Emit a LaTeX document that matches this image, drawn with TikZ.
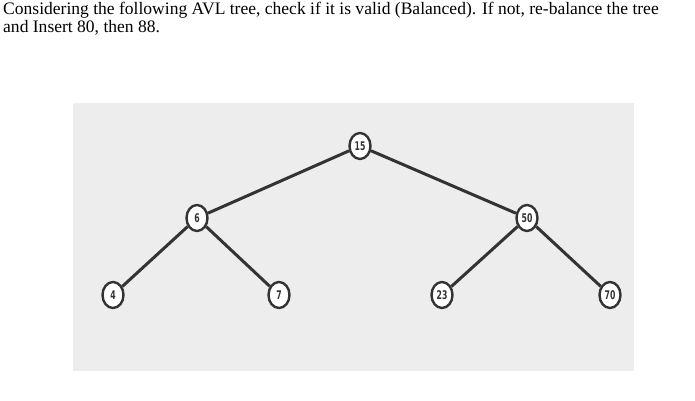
\documentclass[tikz,border=0pt]{standalone}
\usepackage{fontspec}
\setmainfont{Liberation Serif}
\newfontfamily\nodefont{DejaVu Sans Condensed}
\usetikzlibrary{shapes.geometric}
\newcommand{\nlab}[1]{\scalebox{0.72}[1]{#1}}
\begin{document}
\begin{tikzpicture}[x=1bp,y=1bp,
  nd/.style={ellipse,draw=black!80,line width=2.4bp,fill=white,minimum width=21bp,minimum height=26bp,inner sep=0pt,font=\nodefont\bfseries\fontsize{12}{12}\selectfont,text=black!80},
  ed/.style={draw=black!80,line width=3bp}]
\useasboundingbox (0,0) rectangle (695,400);
\fill[black!7] (73,29) rectangle (634,297);
\node[anchor=north west,align=left,inner sep=0pt,font=\fontsize{17.6}{18}\selectfont] (t) at (3,398) {Considering the following AVL tree, check if it is valid (Balanced). If not, re-balance the tree\\and Insert 80, then 88.};
\node[nd] (n15) at (360,254) {\nlab{15}};
\node[nd] (n6) at (197,182) {\nlab{6}};
\node[nd] (n50) at (527,182) {\nlab{50}};
\node[nd] (n4) at (113,105) {\nlab{4}};
\node[nd] (n7) at (279,105) {\nlab{7}};
\node[nd] (n23) at (442,105) {\nlab{23}};
\node[nd] (n70) at (610,105) {\nlab{70}};
\path[ed] (n15) -- (n6) (n15) -- (n50) (n6) -- (n4) (n6) -- (n7) (n50) -- (n23) (n50) -- (n70);
\end{tikzpicture}
\end{document}
